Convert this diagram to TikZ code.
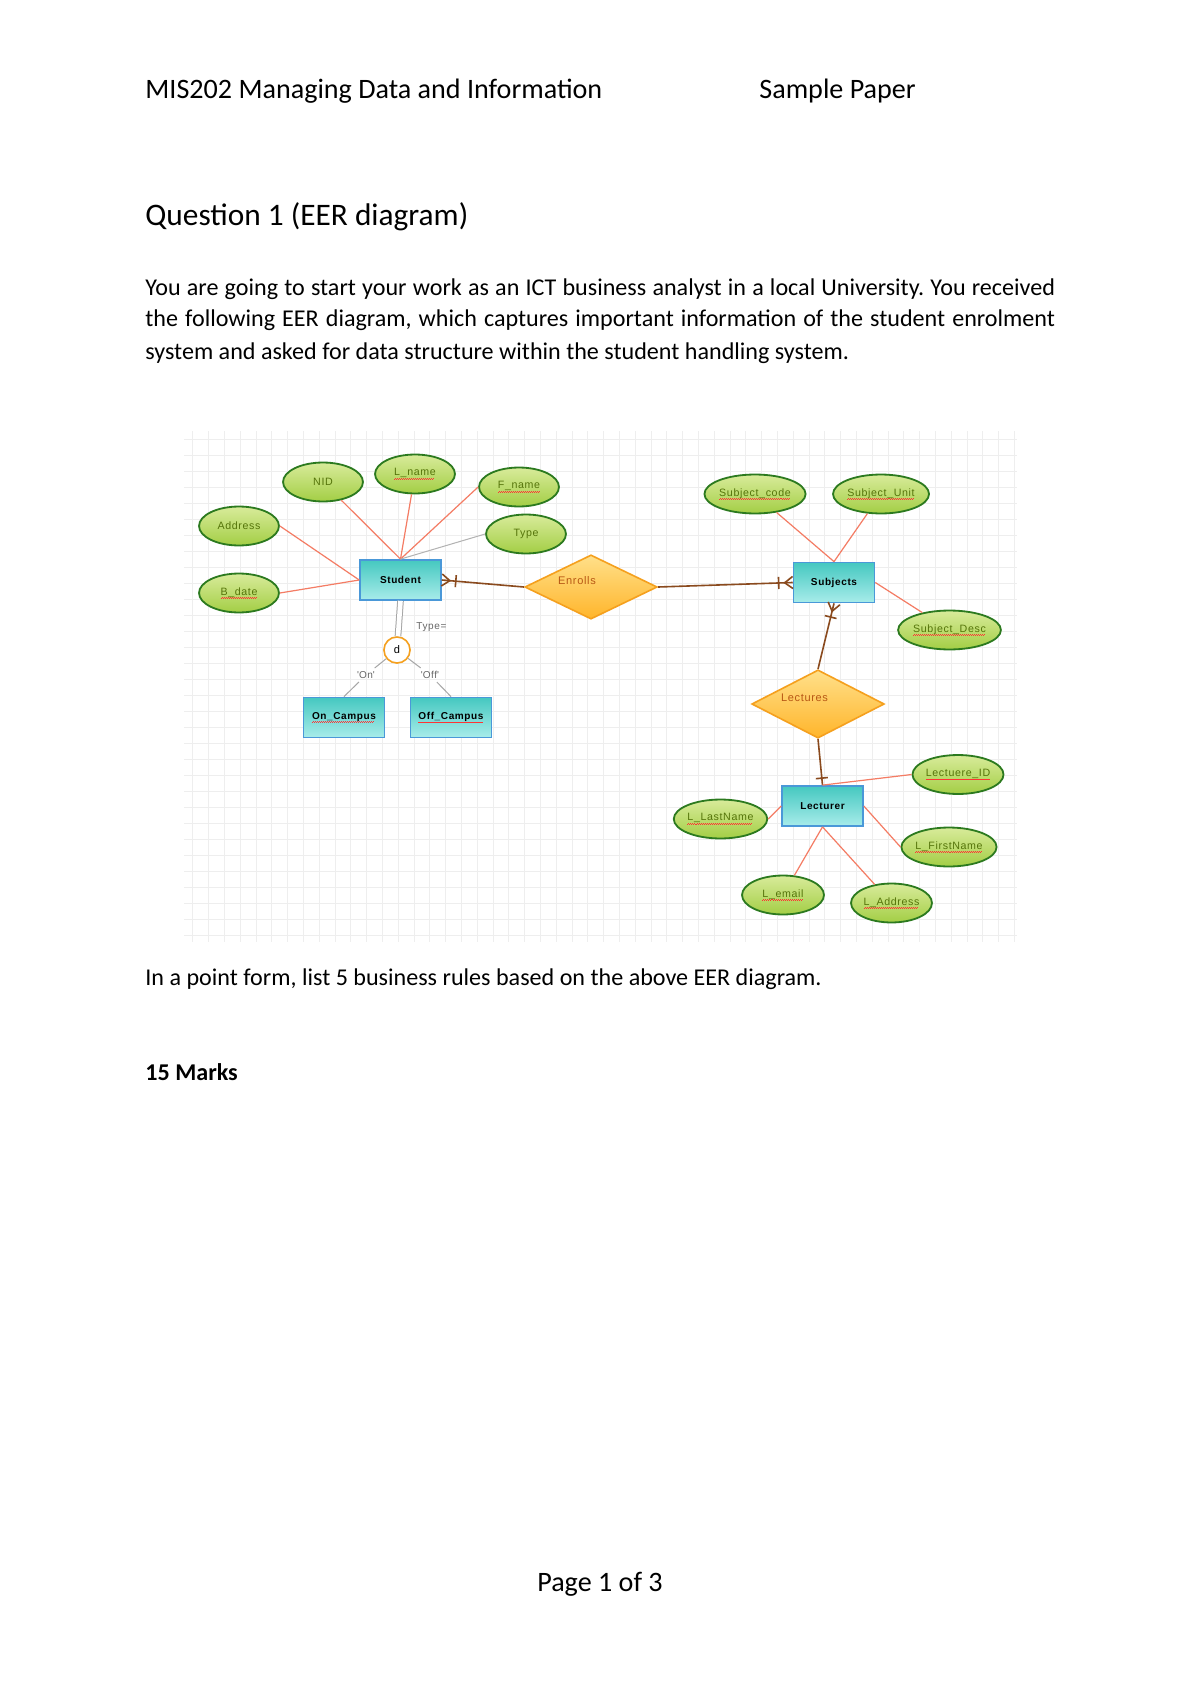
\documentclass[tikz,border=0pt]{standalone}
\usepackage{fontspec}
\usetikzlibrary{positioning,arrows.meta,shapes.geometric,decorations.markings}
\setmainfont{Carlito}
\newfontfamily\erfont{Liberation Sans}[LetterSpace=6]
\definecolor{attrfill}{HTML}{D8EB9A}
\definecolor{attrfilldark}{HTML}{A3CE45}
\definecolor{attrborder}{HTML}{2C7A1F}
\definecolor{attrtext}{HTML}{55740A}
\definecolor{entfill}{HTML}{45C8C0}
\definecolor{entfilllight}{HTML}{A8ECEA}
\definecolor{entborder}{HTML}{4A98D8}
\definecolor{relfill}{HTML}{FFE08A}
\definecolor{relfilldark}{HTML}{FFB52B}
\definecolor{relborder}{HTML}{F5A01E}
\definecolor{reltext}{HTML}{B85815}
\definecolor{linkred}{HTML}{F47C64}
\definecolor{linkbrown}{HTML}{8A4A1E}
\definecolor{gridline}{HTML}{EEEEEE}
\frenchspacing
% red squiggle under words the editor flagged
\newsavebox\spellbox
\newcommand\spellmark[1]{\sbox\spellbox{#1}\leavevmode\rlap{\raisebox{-1.7pt}{\textcolor{red!80}{\leaders\hbox{\rule{.5pt}{.3pt}\rule[.35pt]{.5pt}{.3pt}}\hskip\wd\spellbox}}}\usebox\spellbox}

\begin{document}
\begin{tikzpicture}[x=0.0175cm,y=-0.0175cm,every node/.style={inner sep=0pt},
  page/.style={anchor=base west,font=\fontsize{12}{14}\selectfont},
  attr/.style={ellipse,draw=attrborder,line width=.9pt,top color=attrfill,bottom color=attrfilldark,minimum width=39.8pt,minimum height=19.4pt,text=attrtext,font=\erfont\fontsize{5.3}{6}\selectfont},
  entity/.style={rectangle,draw=entborder,line width=.8pt,top color=entfill,bottom color=entfilllight,minimum width=40.3pt,minimum height=20pt,font=\erfont\bfseries\fontsize{5}{6}\selectfont},
  rel/.style={diamond,draw=relborder,line width=.8pt,top color=relfill,bottom color=relfilldark,minimum width=66pt,minimum height=32pt},
  reltxt/.style={text=reltext,font=\erfont\fontsize{5.5}{6}\selectfont},
  attrlink/.style={draw=linkred,line width=.6pt},
  rellink/.style={draw=linkbrown,line width=.8pt},
  tomany/.style={postaction={decorate,decoration={markings,
    mark=at position -7pt with {\draw[linkbrown,line width=.8pt] (0pt,-3pt) -- (0pt,3pt);},
    mark=at position 1 with {\draw[linkbrown,line width=.8pt] (0pt,3pt) -- (-4pt,0pt) -- (0pt,-3pt);}}}},
  toone/.style={postaction={decorate,decoration={markings,
    mark=at position -3.5pt with {\draw[linkbrown,line width=.8pt] (0pt,-3pt) -- (0pt,3pt);}}}},
  isa/.style={draw=gray!70,line width=.5pt},
  isatxt/.style={inner sep=1.5pt,text=gray!80!black,font=\erfont\fontsize{5}{6}\selectfont}]
\fill[white] (0,0) rectangle (1200,1696);
\useasboundingbox (0,0) rectangle (1200,1696);
% page text
\node[page,font=\fontsize{14}{16}\selectfont] (header) at (145,99) {MIS202 Managing Data and Information};
\node[page,font=\fontsize{14}{16}\selectfont] (paper) at (759,99) {Sample Paper};
\node[page,font=\fontsize{15.6}{19}\selectfont] (question) at (145,226) {Question 1 (EER diagram)};
\node[page] (body1) at (145,296) {\makebox[453pt][s]{You are going to start your work as an ICT business analyst in a local University. You received}};
\node[page] (body2) at (145,327) {\makebox[453pt][s]{the following EER diagram, which captures important information of the student enrolment}};
\node[page] (body3) at (145,359) {system and asked for data structure within the student handling system.};
\node[page] (task) at (145,985) {In a point form, list 5 business rules based on the above EER diagram.};
\node[page,font=\bfseries\fontsize{12}{14}\selectfont] (marks) at (145,1080) {15 Marks};
\node[anchor=base,font=\fontsize{14}{16}\selectfont] (pageno) at (600,1591) {Page 1 of 3};
% drawing canvas grid
\foreach \k in {0,...,52}{\draw[gridline,line width=.4pt] ({192.7+15.8*\k},431) -- ({192.7+15.8*\k},942);}
\foreach \k in {0,...,31}{\draw[gridline,line width=.4pt] (184,{439+16*\k}) -- (1017,{439+16*\k});}
% Student and its attributes
\node[entity] (student) at (400.5,580) {Student};
\node[attr] (nid) at (323,482) {NID};
\node[attr] (lname) at (415,474) {\spellmark{L\_name}};
\node[attr] (fname) at (519,487) {\spellmark{F\_name}};
\node[attr] (type) at (526,534) {Type};
\node[attr] (address) at (239,526) {Address};
\node[attr] (bdate) at (239,593) {\spellmark{B\_date}};
\draw[attrlink] (nid) -- (student.north);
\draw[attrlink] (lname) -- (student.north);
\draw[attrlink] (fname.west) -- (student.north);
\draw[isa,gray!60] (type.west) -- (student.north);
\draw[attrlink] (address.east) -- (student.west);
\draw[attrlink] (bdate.east) -- (student.west);
% specialisation
\node[circle,draw=relborder,fill=white,line width=.8pt,minimum size=13pt,font=\erfont\fontsize{5.5}{6}\selectfont] (disj) at (397,650) {d};
\node[isatxt,anchor=west] (typelbl) at (413,627) {Type=};
\node[entity] (oncampus) at (344,717.5) {\spellmark{On\_Campus}};
\node[entity] (offcampus) at (451,717.5) {\spellmark{Off\_Campus}};
\node[isatxt] (onlbl) at (366,675) {\textquotesingle On\textquotesingle};
\node[isatxt] (offlbl) at (430,675) {\textquotesingle Off\textquotesingle};
\draw[gray!70,double=white,double distance=2.3pt,line width=.5pt] (student.south) -- (disj);
\draw[isa] (disj) -- (onlbl) -- (oncampus.north);
\draw[isa] (disj) -- (offlbl) -- (offcampus.north);
% Enrolls
\node[rel] (enrolls) at (591,587) {};
\node[reltxt] (enrollslbl) at (577,581) {Enrolls};
\draw[rellink,tomany] (enrolls.west) -- (student.east);
% Subjects
\node[entity] (subjects) at (834,582.5) {Subjects};
\node[attr,minimum width=45.3pt] (scode) at (755,494) {\spellmark{Subject\_code}};
\node[attr,minimum width=47.8pt] (sunit) at (881,494) {\spellmark{Subject\_Unit}};
\node[attr,minimum width=47.3pt] (sdesc) at (949.5,630) {\spellmark{Subject\_Desc}};
\draw[attrlink] (scode) -- (subjects.north);
\draw[attrlink] (sunit) -- (subjects.north);
\draw[attrlink] (subjects.east) -- (sdesc);
\draw[rellink,tomany] (enrolls.east) -- (subjects.west);
% Lectures and Lecturer
\node[rel,minimum height=34pt] (lectures) at (818,704) {};
\node[reltxt] (lectureslbl) at (804.5,698) {Lectures};
\node[entity] (lecturer) at (822.5,806) {Lecturer};
\draw[rellink,tomany] (lectures.north) -- (subjects.south);
\draw[rellink,toone] (lectures.south) -- (lecturer.north);
\node[attr,minimum width=42.3pt] (lecid) at (958,774.5) {\spellmark{Lectuere\_ID}};
\node[attr,minimum width=45.8pt] (lfirst) at (949,847) {\spellmark{L\_FirstName}};
\node[attr,minimum width=41.8pt] (llast) at (720.5,819) {\spellmark{L\_LastName}};
\node[attr,minimum width=40.8pt] (lemail) at (783,895) {\spellmark{L\_email}};
\node[attr,minimum width=40.3pt] (laddr) at (891.5,903) {\spellmark{L\_Address}};
\draw[attrlink] (lecid.west) -- (lecturer.north);
\draw[attrlink] (llast.east) -- (lecturer.west);
\draw[attrlink] (lecturer.east) -- (lfirst.west);
\draw[attrlink] (lecturer.south) -- (lemail);
\draw[attrlink] (lecturer.south) -- (laddr);
\end{tikzpicture}
\end{document}
